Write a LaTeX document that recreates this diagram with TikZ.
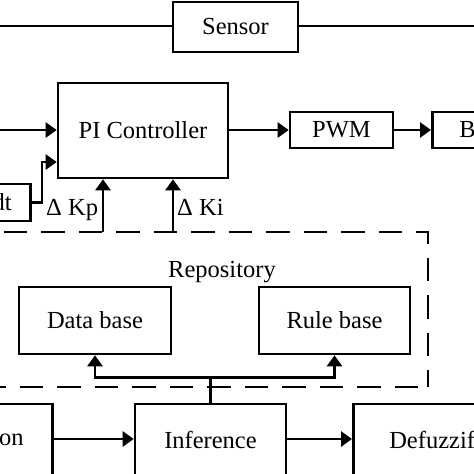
\documentclass[tikz,border=0pt]{standalone}
\usepackage{fontspec}
\setmainfont{Liberation Serif}
\usetikzlibrary{arrows.meta,calc}
\begin{document}
\begin{tikzpicture}[x=1pt,y=-1pt,
  lw/.style={line width=2.6pt},
  box/.style={draw,lw,rectangle,inner sep=0pt,font=\fontsize{24.5}{29}\selectfont},
  lbl/.style={inner sep=0pt,font=\fontsize{24.5}{29}\selectfont},
  arr/.style={lw,-{Triangle[length=11pt,width=15pt]}},
  conn/.style={lw},
  dashbox/.style={lw,dash pattern=on 23.5pt off 14pt}
]
\useasboundingbox (0,0) rectangle (474,474);
\clip (0,0) rectangle (474,474);

% top row
\node[box,minimum width=125pt,minimum height=50pt] (sensor) at (235.5,27) {Sensor};
\coordinate (sl) at (-10,26);
\coordinate (sr) at (484,26);
\draw[conn] (sl) -- (sl -| sensor.west);
\draw[conn] (sensor.east |- sr) -- (sr);

% PI controller row
\node[box,minimum width=170pt,minimum height=95pt] (pi) at (143,130.5) {PI Controller};
\node[box,minimum width=103pt,minimum height=36pt] (pwm) at (341.5,130) {PWM};
\node[box,minimum height=36pt,text width=60pt,align=left,inner xsep=27pt,anchor=west] (b) at (431,130) {B};
\node[box,minimum height=37pt,text width=40pt,align=right,inner xsep=19pt,anchor=east] (dt) at (32,202.5) {dt};
\coordinate (in1) at (-10,130);
\draw[arr] (in1) -- (in1 -| pi.west);
\draw[arr] (dt.east) -- ++(10,0) |- ($(pi.west)+(0,31.5)$);
\draw[arr] (pi.east |- pwm.west) -- (pwm.west);
\draw[arr] (pwm.east) -- (b.west);

% gain arrows
\coordinate (kp) at (103,232);
\coordinate (ki) at (173,232);
\draw[arr] (kp) -- (kp |- pi.south);
\draw[arr] (ki) -- (ki |- pi.south);
\node[lbl,anchor=base west] (lkp) at (46,215) {Δ Kp};
\node[lbl,anchor=base west] (lki) at (177,215) {Δ Ki};

% repository
\draw[dashbox] (-34,232) -- (428,232) -- (428,387);
\draw[dashbox,dash phase=27.5pt] (428,387) -- (-40,387);
\node[lbl,anchor=base] (repo) at (222,277) {Repository};
\node[box,minimum width=152pt,minimum height=67pt] (db) at (95,320.5) {Data base};
\node[box,minimum width=151pt,minimum height=67pt] (rb) at (334.5,320.5) {Rule base};

% bottom row
\node[box,minimum width=151pt,minimum height=72pt] (inf) at (210.5,440) {Inference};
\node[box,minimum height=72pt,text width=60pt,align=right,inner xsep=29pt,anchor=east] (fuz) at (54,440) {on};
\node[box,minimum height=72pt,text width=100pt,align=left,inner xsep=36pt,anchor=west] (defuz) at (352,440) {Defuzzif};
\draw[arr] (fuz.east |- 0,439) -- (inf.west |- 0,439);
\draw[arr] (inf.east |- 0,439) -- (defuz.west |- 0,439);

% inference to repository
\coordinate (j) at ($(inf.north)+(0,-25)$);
\draw[conn] (inf.north) -- (j);
\draw[arr] (j) -| (db.south);
\draw[arr] (j) -| (rb.south);
\end{tikzpicture}
\end{document}
